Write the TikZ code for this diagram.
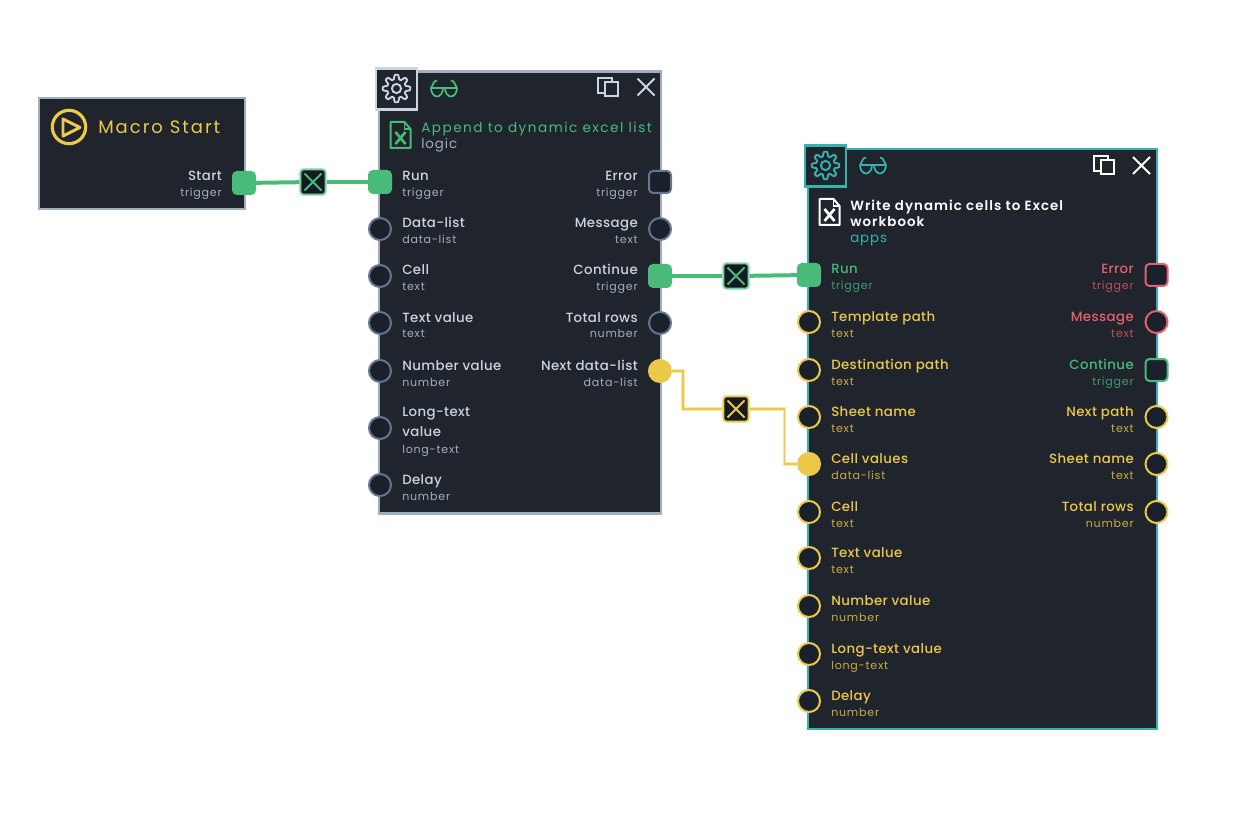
\documentclass[tikz,border=0pt]{standalone}
\usepackage{fontspec}
\usepackage{tikz}
\usetikzlibrary{shapes,arrows,positioning,calc}
\setmainfont{Poppins}
\newfontfamily\namefont[LetterSpace=3]{Poppins Medium}
\newfontfamily\typefont[LetterSpace=7]{Poppins}
\newfontfamily\titlefont[LetterSpace=11]{Poppins}
\newfontfamily\headfont[LetterSpace=8]{Poppins SemiBold}
\definecolor{panelbg}{HTML}{20242D}
\definecolor{portbg}{HTML}{1A202C}
\definecolor{cutbg}{HTML}{141A22}
\definecolor{slateedge}{HTML}{A0AEC0}
\definecolor{portedge}{HTML}{667590}
\definecolor{tealedge}{HTML}{38B2AC}
\definecolor{wiregreen}{HTML}{48BB78}
\definecolor{wireyellow}{HTML}{ECC94B}
\definecolor{wirered}{HTML}{E5606A}
\definecolor{namegrey}{HTML}{CBD5E0}
\definecolor{typegrey}{HTML}{A0AEC0}
\definecolor{namegreen}{HTML}{48BB78}
\definecolor{typegreen}{HTML}{3D9A66}
\definecolor{nameyellow}{HTML}{ECC94B}
\definecolor{typeyellow}{HTML}{C9AC45}
\definecolor{namered}{HTML}{E5606A}
\definecolor{typered}{HTML}{B9505A}
\tikzset{
    panel/.style={draw=slateedge, fill=panelbg, line width=2pt, inner sep=0pt},
    tab/.style={draw=#1, fill=panelbg, line width=1.8pt, minimum size=31pt, inner sep=0pt},
    portbase/.style={line width=1.5pt, minimum size=16.5pt, inner sep=0pt, outer sep=0pt},
    portsq/.style={portbase, rectangle, rounded corners=3pt, draw=#1, fill=portbg},
    portdot/.style={portbase, circle, draw=#1, fill=portbg},
    sqslate/.style={portsq=portedge},
    dotslate/.style={portdot=portedge},
    sqon/.style={portbase, rectangle, rounded corners=3pt, draw=wiregreen, fill=wiregreen},
    sqred/.style={portsq=wirered},
    sqgreen/.style={portsq=wiregreen},
    dotred/.style={portdot=wirered},
    dotyellow/.style={portdot=wireyellow},
    doton/.style={portbase, circle, draw=wireyellow, fill=wireyellow},
    namelabel/.style={text=name#1, font=\namefont\fontsize{10}{12}\selectfont, inner sep=0pt},
    typelabel/.style={text=type#1, font=\typefont\fontsize{8.3}{10}\selectfont, inner sep=0pt},
    cut/.style={draw=#1, fill=cutbg, line width=1.4pt, rounded corners=2.5pt, minimum size=19pt, inner sep=0pt},
    wire/.style={draw=wiregreen, line width=3pt},
    datawire/.style={preaction={draw=wireyellow!45!white, line width=2.6pt}, draw=wireyellow, line width=1.2pt},
    pics/gearicon/.style={code={
        \draw[pic actions, line width=1.4pt, line join=round] plot[domain=0:360, samples=145, variable=\a]
            ({\a}:{11.6+2.2*max(-1,min(1,1.6*sin(8*\a+90)))}) -- cycle;
        \draw[pic actions, line width=1.4pt] (0,0) circle (4.6);
    }},
    pics/glassesicon/.style={code={
        \draw[pic actions, line width=1.3pt] (-13,0) -- (13,0);
        \draw[pic actions, line width=1.3pt] (-13,0) arc (180:0:6 and 8.5);
        \draw[pic actions, line width=1.3pt] (1,0) arc (180:0:6 and 8.5);
        \draw[pic actions, line width=1.3pt] (-13,0) -- (-9.5,-6.5) -- (-7,-7.5);
        \draw[pic actions, line width=1.3pt] (13,0) -- (9.5,-6.5) -- (7,-7.5);
    }},
    pics/copyicon/.style={code={
        \draw[pic actions, line width=1.4pt] (-10,-9) rectangle (4,6);
        \draw[pic actions, line width=1.4pt, fill=panelbg] (-3,-5) rectangle (10,9);
    }},
    pics/closeicon/.style={code={
        \draw[pic actions, line width=1.5pt] (-8.5,-8.5) -- (8.5,8.5) (-8.5,8.5) -- (8.5,-8.5);
    }},
    pics/fileicon/.style={code={
        \draw[pic actions, line width=1.5pt, line join=round] (4,-13) -- (-10,-13) -- (-10,13) -- (10,13) -- (10,-6) -- cycle;
        \draw[pic actions, line width=1.2pt] (4,-13) -- (4,-6) -- (10,-6);
        \draw[pic actions, line width=2pt] (-5,-3) -- (5,9) (-5,9) -- (5,-3);
    }},
}
\begin{document}
\begin{tikzpicture}[x=0.75pt, y=-0.75pt]
    \useasboundingbox (0,0) rectangle (1248,823);

    % panels
    \node[panel, minimum width=154.5pt, minimum height=83.25pt] (macrostart) at (142,153.5) {};
    \node[panel, minimum width=211.5pt, minimum height=331pt] (appendlist) at (520,292.5) {};
    \node[panel, draw=tealedge, line width=1.6pt, minimum width=261.75pt, minimum height=435pt] (writecells) at (982.5,439) {};
    \node[tab=namegrey] (appendgear) at (396.5,89) {};
    \node[tab=tealedge] (writegear) at (825.5,166) {};

    % header of macro start
    \node[draw=wireyellow, circle, line width=2.4pt, minimum size=25pt, inner sep=0pt] (playring) at (69,127) {};
    \draw[wireyellow, line width=2.2pt, line join=round] (63,119) -- (80,127.5) -- (63,136) -- cycle;
    \node[anchor=base west, inner sep=0pt, text=wireyellow, font=\titlefont\fontsize{13.5}{16}\selectfont] (macrotitle) at (98,134) {Macro Start};

    % header of append
    \pic[draw=namegrey] at (396.5,88.5) {gearicon};
    \pic[draw=wiregreen] at (444,88) {glassesicon};
    \pic[draw=namegrey] at (608,87) {copyicon};
    \pic[draw=namegrey] at (646,87) {closeicon};
    \pic[draw=wiregreen] at (400.5,135) {fileicon};
    \node[anchor=base west, inner sep=0pt, text=wiregreen, font=\titlefont\fontsize{10.2}{12}\selectfont] (appendtitle) at (421,133) {Append to dynamic excel list};
    \node[anchor=base west, inner sep=0pt, text=typegrey, font=\typefont\fontsize{10}{12}\selectfont] (appendkind) at (421,149) {logic};

    % header of write
    \pic[draw=tealedge] at (825.5,165.5) {gearicon};
    \pic[draw=tealedge] at (873,165) {glassesicon};
    \pic[draw=white] at (1104,165) {copyicon};
    \pic[draw=white] at (1141.5,165.5) {closeicon};
    \pic[draw=white] at (829.5,212) {fileicon};
    \node[anchor=north west, align=left, inner sep=0pt, text=white, font=\headfont\fontsize{10}{12}\selectfont] (writetitle) at (850,200) {Write dynamic cells to Excel\\workbook};
    \node[anchor=base west, inner sep=0pt, text=tealedge, font=\typefont\fontsize{10}{12}\selectfont] (writekind) at (850,243) {apps};

    % macro start port
    \node[sqon] (macrostart-start) at (244,183) {};
    \node[namelabel=grey, anchor=base east] (macrostart-startname) at (222,181) {Start};
    \node[typelabel=grey, anchor=base east] (macrostart-starttype) at (222,197) {trigger};

    % ports of append, left side
    \foreach \id/\st/\nm/\ty/\y in {run/sqon/Run/trigger/182, datalist/dotslate/Data-list/data-list/229, cell/dotslate/Cell/text/276, textvalue/dotslate/Text value/text/323, numbervalue/dotslate/Number value/number/371, delay/dotslate/Delay/number/485} {
        \node[\st] (appendlist-\id) at (380,\y) {};
        \node[namelabel=grey, anchor=base west] (appendlist-\id name) at (402,\y-1) {\nm};
        \node[typelabel=grey, anchor=base west] (appendlist-\id type) at (402,\y+15) {\ty};
    }
    \node[dotslate] (appendlist-longtext) at (380,428) {};
    \node[namelabel=grey, anchor=base west] (appendlist-longtextname) at (402,416) {Long-text};
    \node[namelabel=grey, anchor=base west] (appendlist-longtextwrap) at (402,436) {value};
    \node[typelabel=grey, anchor=base west] (appendlist-longtexttype) at (402,453) {long-text};

    % ports of append, right side
    \foreach \id/\st/\nm/\ty/\y in {error/sqslate/Error/trigger/182, message/dotslate/Message/text/229, continue/sqon/Continue/trigger/276, totalrows/dotslate/Total rows/number/323, nextlist/doton/Next data-list/data-list/371} {
        \node[\st] (appendlist-\id) at (660,\y) {};
        \node[namelabel=grey, anchor=base east] (appendlist-\id name) at (638,\y-1) {\nm};
        \node[typelabel=grey, anchor=base east] (appendlist-\id type) at (638,\y+15) {\ty};
    }

    % ports of write, left side
    \foreach \id/\st/\c/\nm/\ty/\y in {run/sqon/green/Run/trigger/275, template/dotyellow/yellow/Template path/text/322, destination/dotyellow/yellow/Destination path/text/370, sheet/dotyellow/yellow/Sheet name/text/417, cellvalues/doton/yellow/Cell values/data-list/464, cell/dotyellow/yellow/Cell/text/512, textvalue/dotyellow/yellow/Text value/text/558, numbervalue/dotyellow/yellow/Number value/number/606, longtext/dotyellow/yellow/Long-text value/long-text/654, delay/dotyellow/yellow/Delay/number/701} {
        \node[\st] (writecells-\id) at (809,\y) {};
        \node[namelabel=\c, anchor=base west] (writecells-\id name) at (831,\y-1) {\nm};
        \node[typelabel=\c, anchor=base west] (writecells-\id type) at (831,\y+15) {\ty};
    }

    % ports of write, right side
    \foreach \id/\st/\c/\nm/\ty/\y in {error/sqred/red/Error/trigger/275, message/dotred/red/Message/text/322, continue/sqgreen/green/Continue/trigger/370, nextpath/dotyellow/yellow/Next path/text/417, sheetout/dotyellow/yellow/Sheet name/text/464, totalrows/dotyellow/yellow/Total rows/number/512} {
        \node[\st] (writecells-\id) at (1156.5,\y) {};
        \node[namelabel=\c, anchor=base east] (writecells-\id name) at (1134,\y-1) {\nm};
        \node[typelabel=\c, anchor=base east] (writecells-\id type) at (1134,\y+15) {\ty};
    }

    % cut buttons and wires
    \node[cut=wiregreen!70!white] (cuta) at (313,182) {};
    \node[cut=wiregreen!70!white] (cutb) at (736,276) {};
    \node[cut=wireyellow] (cutc) at (736,409) {};
    \draw[wire] (macrostart-start) -- (cuta);
    \draw[wire] (cuta) -- (appendlist-run);
    \draw[wire] (appendlist-continue) -- (cutb);
    \draw[wire] (cutb) -- (writecells-run);
    \draw[datawire] (appendlist-nextlist.east) -- ++(12,0) |- (cutc.west);
    \draw[datawire] (cutc.east) -- ++(35,0) |- (writecells-cellvalues.west);
    \pic[draw=wiregreen] at (313,182) {closeicon};
    \pic[draw=wiregreen] at (736,276) {closeicon};
    \pic[draw=wireyellow] at (736,409) {closeicon};
\end{tikzpicture}
\end{document}
